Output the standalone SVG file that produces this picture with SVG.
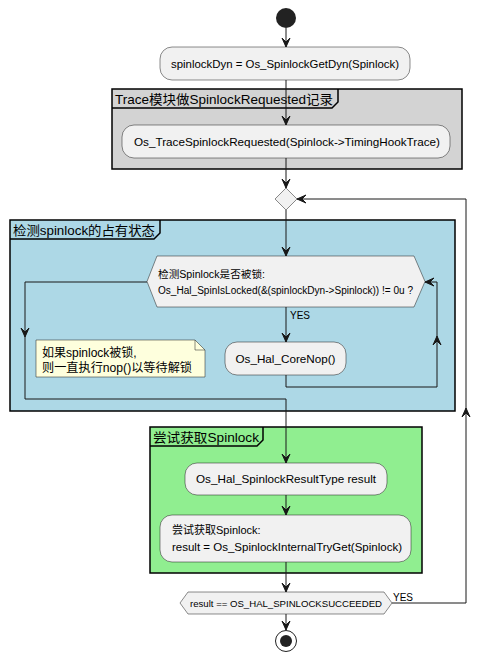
<svg xmlns="http://www.w3.org/2000/svg" width="491" height="664" viewBox="0 0 491 664">
<style>
text{font-family:"Liberation Sans","Noto Sans CJK SC",sans-serif;fill:#000}
.box{fill:#F1F1F1;stroke:#181818;stroke-width:0.5}
.grp{stroke:#000;stroke-width:1.5}
.tab{fill:none;stroke:#000;stroke-width:1.5}
.ln{fill:none;stroke:#181818;stroke-width:1}
.t11{font-size:11px}
.t10{font-size:10px}
.gt{font-size:13px}
</style>
<defs>
<path id="ah" d="M0,0 L-9,-4 L-5,0 L-9,4 Z" fill="#181818" stroke="#181818" stroke-width="1"/>
</defs>

<g id="start"><circle cx="286" cy="18" r="10" fill="#222"/></g>

<g id="n1">
<rect class="box" x="160" y="47" width="250" height="33" rx="12"/>
<text class="t11" x="285" y="68" text-anchor="middle" textLength="228" lengthAdjust="spacingAndGlyphs">spinlockDyn = Os_SpinlockGetDyn(Spinlock)</text>
</g>

<g id="g1">
<rect class="grp" x="112" y="89" width="350" height="80" fill="#D3D3D3"/>
<path class="tab" d="M112,108 L332,108 L338,102 L338,89"/>
<text class="gt" x="115" y="104" textLength="218" lengthAdjust="spacingAndGlyphs">Trace模块做SpinlockRequested记录</text>
</g>

<g id="n2">
<rect class="box" x="122" y="125" width="328" height="33" rx="12"/>
<text class="t11" x="287" y="146" text-anchor="middle" textLength="306" lengthAdjust="spacingAndGlyphs">Os_TraceSpinlockRequested(Spinlock-&gt;TimingHookTrace)</text>
</g>

<g id="g2">
<rect class="grp" x="10" y="220" width="445" height="191" fill="#ADD8E6"/>
<path class="tab" d="M10,239 L154,239 L160,233 L160,220"/>
<text class="gt" x="13" y="235" textLength="142" lengthAdjust="spacingAndGlyphs">检测spinlock的占有状态</text>
</g>

<g id="g3">
<rect class="grp" x="150" y="427" width="272" height="146" fill="#90EE90"/>
<path class="tab" d="M150,446 L257,446 L263,440 L263,427"/>
<text class="gt" x="153" y="442" textLength="106" lengthAdjust="spacingAndGlyphs">尝试获取Spinlock</text>
</g>

<g id="merge"><polygon points="286,188 297,199 286,210 275,199" fill="#F1F1F1" stroke="#181818" stroke-width="0.5"/></g>

<g id="check">
<polygon class="box" points="157,256 414,256 425,281.5 414,307 157,307 147,281.5"/>
<text class="t10" x="158" y="278" textLength="107" lengthAdjust="spacingAndGlyphs">检测Spinlock是否被锁:</text>
<text class="t10" x="158" y="294" textLength="255" lengthAdjust="spacingAndGlyphs">Os_Hal_SpinIsLocked(&amp;(spinlockDyn-&gt;Spinlock)) != 0u ?</text>
</g>

<g id="nop">
<rect class="box" x="225" y="342" width="121" height="33" rx="12"/>
<text class="t11" x="285.5" y="363" text-anchor="middle" textLength="100" lengthAdjust="spacingAndGlyphs">Os_Hal_CoreNop()</text>
</g>

<g id="note">
<path d="M36,340 L195,340 L205,350 L205,377 L36,377 Z" fill="#FEFFDD" stroke="#181818" stroke-width="0.5"/>
<path d="M195,340 L195,350 L205,350" fill="none" stroke="#181818" stroke-width="0.5"/>
<text style="font-size:12px" x="42" y="357">如果spinlock被锁,</text>
<text style="font-size:12px" x="42" y="372" textLength="150" lengthAdjust="spacingAndGlyphs">则一直执行nop()以等待解锁</text>
</g>

<g id="n3">
<rect class="box" x="185" y="463" width="202" height="32" rx="12"/>
<text class="t11" x="286" y="483" text-anchor="middle" textLength="180" lengthAdjust="spacingAndGlyphs">Os_Hal_SpinlockResultType result</text>
</g>

<g id="n4">
<rect class="box" x="160" y="515" width="251" height="47" rx="12"/>
<text class="t11" x="172" y="534">尝试获取Spinlock:</text>
<text class="t11" x="172" y="551" textLength="230" lengthAdjust="spacingAndGlyphs">result = Os_SpinlockInternalTryGet(Spinlock)</text>
</g>

<g id="result">
<polygon class="box" points="188,592 384,592 392,603 384,614 188,614 180,603"/>
<text style="font-size:9px" x="286" y="607" text-anchor="middle" textLength="192" lengthAdjust="spacingAndGlyphs">result == OS_HAL_SPINLOCKSUCCEEDED</text>
</g>

<g id="end">
<circle cx="286" cy="641" r="10.5" fill="none" stroke="#222" stroke-width="1"/>
<circle cx="286" cy="641" r="6" fill="#222"/>
</g>

<g id="connectors">
<path class="ln" d="M286,28 L286,47"/><use href="#ah" transform="translate(286,47) rotate(90)"/>
<path class="ln" d="M286,80 L286,125"/><use href="#ah" transform="translate(286,125) rotate(90)"/>
<path class="ln" d="M286,158 L286,188"/><use href="#ah" transform="translate(286,188) rotate(90)"/>
<path class="ln" d="M286,210 L286,256"/><use href="#ah" transform="translate(286,256) rotate(90)"/>
<path class="ln" d="M286,307 L286,342"/><use href="#ah" transform="translate(286,342) rotate(90)"/>
<text class="t10" x="290" y="319">YES</text>
<path class="ln" d="M286,375 L286,387 L437,387 L437,282 L425,282"/>
<use href="#ah" transform="translate(437,336) rotate(-90)"/>
<use href="#ah" transform="translate(425,282) rotate(180)"/>
<path class="ln" d="M147,282 L25,282 L25,399 L286,399 L286,463"/>
<use href="#ah" transform="translate(25,337) rotate(90)"/>
<use href="#ah" transform="translate(286,463) rotate(90)"/>
<path class="ln" d="M286,495 L286,515"/><use href="#ah" transform="translate(286,515) rotate(90)"/>
<path class="ln" d="M286,562 L286,592"/><use href="#ah" transform="translate(286,592) rotate(90)"/>
<path class="ln" d="M286,614 L286,630"/><use href="#ah" transform="translate(286,630) rotate(90)"/>
<path class="ln" d="M392,603 L466,603 L466,199 L297,199"/>
<use href="#ah" transform="translate(466,408) rotate(-90)"/>
<use href="#ah" transform="translate(297,199) rotate(180)"/>
<text class="t10" x="393" y="601">YES</text>
</g>
</svg>
